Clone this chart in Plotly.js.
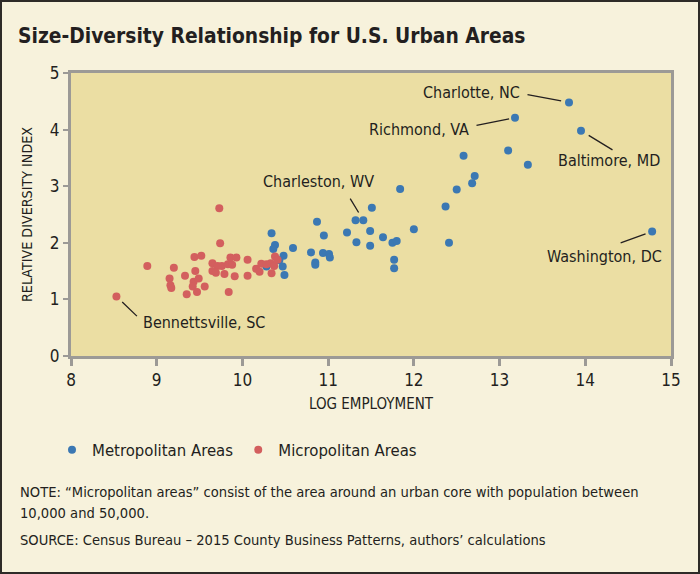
<!DOCTYPE html>
<html>
<head>
<meta charset="utf-8">
<script src="https://cdn.plot.ly/plotly-3.0.1.min.js"></script>
<style>
  html, body { margin: 0; padding: 0; background: #f7f2dc; }
  #chart { width: 696px; height: 570px; border: 2px solid #2e2b28; }
</style>
</head>
<body>
<div id="chart"></div>
<script>
// Metropolitan areas: log employment vs. relative diversity index
// (first five entries are the labelled cities)
const metroLogEmp = [
  13.81, 13.18, 13.95, 14.78, 11.41,
  10.34, 10.38, 10.36, 10.48, 10.59, 10.43, 10.28, 10.47, 10.49,
  10.87, 10.95, 10.80, 10.94, 11.01, 11.02, 10.85, 10.85,
  11.32, 11.51, 11.84, 11.22, 11.49, 11.33, 11.49, 11.64, 11.75, 11.80, 12.00, 11.77, 11.77,
  12.37, 12.41, 12.50, 12.58, 12.68, 12.71, 13.10, 13.33
];
const metroDiversity = [
  4.48, 4.21, 3.98, 2.20, 2.40,
  2.17, 1.96, 1.89, 1.77, 1.91, 1.69, 1.58, 1.58, 1.43,
  2.37, 2.13, 1.83, 1.82, 1.80, 1.74, 1.65, 1.61,
  2.40, 2.62, 2.95, 2.18, 2.21, 2.01, 1.95, 2.10, 2.00, 2.03, 2.24, 1.70, 1.55,
  2.64, 2.00, 2.94, 3.54, 3.05, 3.18, 3.63, 3.38
];

// Micropolitan areas (first entry is the labelled city)
const microLogEmp = [
  8.53, 8.89, 9.20, 9.15, 9.16, 9.17, 9.33, 9.35, 9.44, 9.52,
  9.45, 9.43, 9.49, 9.42, 9.47, 9.56, 9.73, 9.74, 9.65, 9.71,
  9.76, 9.83, 9.88, 9.86, 9.93, 10.06, 9.65, 9.69, 9.79, 9.91,
  10.06, 9.84, 10.16, 10.20, 10.22, 10.28, 10.33, 10.37, 10.34, 10.38, 10.41
];
const microDiversity = [
  1.05, 1.59, 1.56, 1.37, 1.25, 1.20, 1.42, 1.09, 1.75, 1.77,
  1.50, 1.31, 1.37, 1.23, 1.13, 1.23, 2.61, 1.99, 1.64, 1.59,
  1.59, 1.62, 1.61, 1.74, 1.74, 1.70, 1.50, 1.47, 1.45, 1.41,
  1.42, 1.13, 1.54, 1.49, 1.63, 1.62, 1.64, 1.59, 1.46, 1.76, 1.70
];

const xTickVals = [8, 9, 10, 11, 12, 13, 14, 15];
const yTickVals = [0, 1, 2, 3, 4, 5];

// Labelled cities: name, series, index into that series
const cityNames  = ['Charlotte, NC', 'Richmond, VA', 'Baltimore, MD', 'Washington, DC', 'Charleston, WV', 'Bennettsville, SC'];
const citySeries = ['metro', 'metro', 'metro', 'metro', 'metro', 'micro'];
const cityIndex  = [0, 1, 2, 3, 4, 0];

const FONT = 'Liberation Sans Narrow, DejaVu Sans Condensed, Roboto, sans-serif';
const INK = '#231f20';
const AXIS_GRAY = '#9c9a96';

// Label placement (pixel offsets from each point): text offset + leader line
const placement = {
  'Charlotte, NC':     { xanchor: 'right',  xshift: -47, yshift: 10,  ax: -43, ay: -8,  standoff: 8 },
  'Richmond, VA':      { xanchor: 'right',  xshift: -44, yshift: -12, ax: -40, ay: 8,   standoff: 6 },
  'Baltimore, MD':     { xanchor: 'left',   xshift: -25, yshift: -30, ax: 33,  ay: 20,  standoff: 9 },
  'Washington, DC':    { xanchor: 'right',  xshift: 12,  yshift: -25, ax: -33, ay: 12,  standoff: 7 },
  'Charleston, WV':    { xanchor: 'center', xshift: -45, yshift: 39,  ax: -14, ay: -23, standoff: 9 },
  'Bennettsville, SC': { xanchor: 'left',   xshift: 25,  yshift: -26, ax: 22,  ay: 21,  standoff: 8 }
};

const traces = [
  {
    type: 'scatter', mode: 'markers', name: 'Metropolitan Areas',
    x: metroLogEmp, y: metroDiversity,
    marker: { color: '#3b78b3', size: 8 },
    cliponaxis: false
  },
  {
    type: 'scatter', mode: 'markers', name: 'Micropolitan Areas',
    x: microLogEmp, y: microDiversity,
    marker: { color: '#d35f5e', size: 8 },
    cliponaxis: false
  }
];

const annotations = [];
cityNames.forEach((name, k) => {
  const xs = citySeries[k] === 'metro' ? metroLogEmp : microLogEmp;
  const ys = citySeries[k] === 'metro' ? metroDiversity : microDiversity;
  const px = xs[cityIndex[k]], py = ys[cityIndex[k]];
  const p = placement[name];
  annotations.push({
    x: px, y: py, xref: 'x', yref: 'y', text: name, showarrow: false,
    xanchor: p.xanchor, yanchor: 'middle', xshift: p.xshift, yshift: p.yshift,
    font: { family: FONT, size: 16, color: INK }
  });
  annotations.push({
    x: px, y: py, xref: 'x', yref: 'y', text: '', showarrow: true,
    arrowhead: 0, arrowwidth: 1.3, arrowcolor: INK,
    ax: p.ax, ay: p.ay, standoff: p.standoff
  });
});

// Footnotes below the legend
const notes = [
  { text: 'NOTE: \u201cMicropolitan areas\u201d consist of the area around an urban core with population between', y: 492 },
  { text: '10,000 and 50,000.', y: 512 },
  { text: 'SOURCE: Census Bureau \u2013 2015 County Business Patterns, authors\u2019 calculations', y: 539 }
];
const plotTop = 73, plotBottom = 356, plotLeft = 71, plotRight = 671;
notes.forEach(n => {
  annotations.push({
    xref: 'paper', yref: 'paper',
    x: (18 - plotLeft) / (plotRight - plotLeft),
    y: (plotBottom - n.y) / (plotBottom - plotTop),
    xanchor: 'left', yanchor: 'middle', showarrow: false, align: 'left',
    text: n.text, font: { family: FONT, size: 14.6, color: INK }
  });
});

const layout = {
  width: 696, height: 570,
  margin: { l: plotLeft - 2, r: 696 - (plotRight - 2), t: plotTop - 2, b: 570 - (plotBottom - 2) },
  paper_bgcolor: '#f7f2dc',
  plot_bgcolor: '#ebdea3',
  font: { family: FONT, color: INK },
  title: {
    text: '<b>Size-Diversity Relationship for U.S. Urban Areas</b>',
    xref: 'container', yref: 'container',
    x: 16 / 696, xanchor: 'left',
    y: 1 - 34 / 570, yanchor: 'middle',
    font: { family: FONT, size: 20.8, color: INK }
  },
  xaxis: {
    range: [8, 15], tickvals: xTickVals, ticktext: xTickVals.map(String),
    showgrid: false, zeroline: false,
    showline: true, mirror: true, linecolor: AXIS_GRAY, linewidth: 3,
    ticks: 'outside', ticklen: 7, tickwidth: 3, tickcolor: AXIS_GRAY,
    tickfont: { family: FONT, size: 17, color: INK },
    title: { text: 'LOG EMPLOYMENT', standoff: 10, font: { family: FONT, size: 15, color: INK } }
  },
  yaxis: {
    range: [0, 5], tickvals: yTickVals, ticktext: yTickVals.map(String),
    showgrid: false, zeroline: false,
    showline: true, mirror: true, linecolor: AXIS_GRAY, linewidth: 3,
    ticks: 'outside', ticklen: 5, tickwidth: 2, tickcolor: AXIS_GRAY,
    tickfont: { family: FONT, size: 17, color: INK },
    title: { text: 'RELATIVE DIVERSITY INDEX', standoff: 14, font: { family: FONT, size: 14.2, color: INK } }
  },
  showlegend: true,
  legend: {
    orientation: 'h',
    x: (52 - plotLeft) / (plotRight - plotLeft), xanchor: 'left',
    y: -(450 - plotBottom) / (plotBottom - plotTop), yanchor: 'middle',
    bgcolor: 'rgba(0,0,0,0)',
    font: { family: FONT, size: 16.6, color: INK }
  },
  annotations: annotations
};

Plotly.newPlot('chart', traces, layout, { displayModeBar: false, staticPlot: true });
</script>
</body>
</html>
